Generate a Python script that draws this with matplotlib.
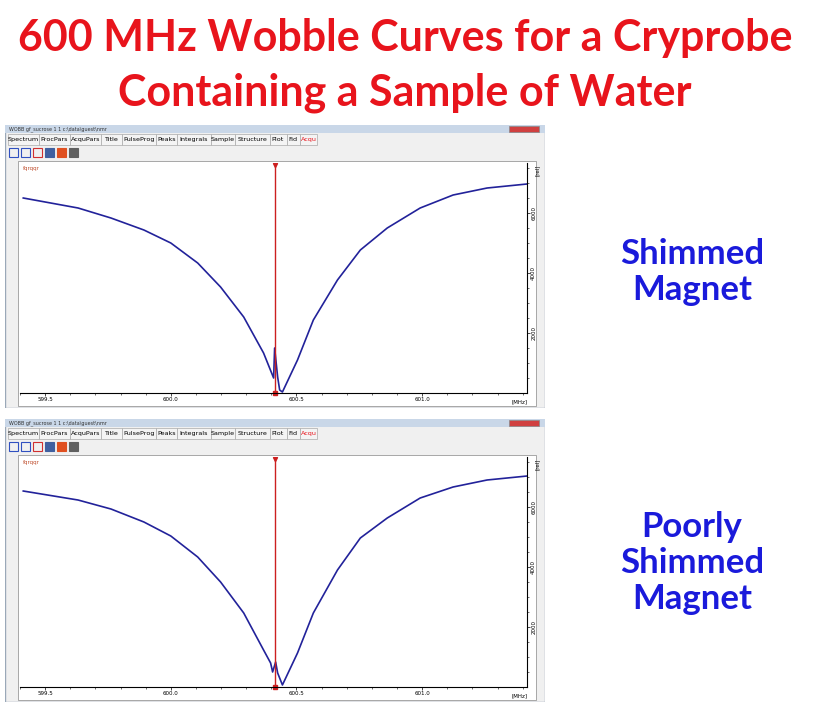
import matplotlib
matplotlib.use("Agg")
import matplotlib.pyplot as plt
from matplotlib.patches import Rectangle

# wobble curve, shimmed magnet (MHz, rel)
freq_top = [599.413, 599.631, 599.762, 599.893, 600.0, 600.107, 600.198, 600.290,
            600.369, 600.409, 600.413, 600.425, 600.433, 600.444, 600.504, 600.567,
            600.663, 600.754, 600.861, 600.992, 601.123, 601.258, 601.417]
rel_top = [6500, 6167, 5833, 5433, 5000, 4333, 3533, 2533,
           1333, 500, 1500, 533, 100, 33, 1100, 2433,
           3767, 4767, 5500, 6167, 6600, 6833, 6967]
# poorly shimmed magnet
freq_bot = [599.413, 599.631, 599.762, 599.893, 600.0, 600.107, 600.198, 600.290,
            600.369, 600.397, 600.405, 600.417, 600.425, 600.444, 600.504, 600.567,
            600.663, 600.754, 600.861, 600.992, 601.123, 601.258, 601.417]
rel_bot = [6533, 6233, 5933, 5500, 5033, 4333, 3500, 2467,
           1233, 800, 500, 833, 467, 67, 1133, 2467,
           3900, 4967, 5633, 6300, 6667, 6900, 7033]
x_ticks = [599.5, 600.0, 600.5, 601.0]
y_ticks = [2000, 4000, 6000]
marker_freq = 600.413
tabs = ["Spectrum", "ProcPars", "AcquPars", "Title", "PulseProg", "Peaks",
        "Integrals", "Sample", "Structure", "Plot", "Fid", "Acqu"]
labels = ["Shimmed\nMagnet", "Poorly\nShimmed\nMagnet"]

W, H = 814, 720
fig = plt.figure(figsize=(W / 100, H / 100), dpi=100)


def fr(x, y, w, h):
    return [x / W, 1 - (y + h) / H, w / W, h / H]


for line, yy in [("600 MHz Wobble Curves for a Cryprobe", 38),
                 ("Containing a Sample of Water", 93)]:
    fig.text(405 / W, 1 - yy / H, line, color="#e8141c", family="Lato",
             fontsize=31, fontweight="bold", ha="center", va="center")


def draw_panel(top, freq, rel, label, label_y):
    # window chrome
    bg = fig.add_axes(fr(5, top, 540, 283))
    bg.set_xlim(0, 540)
    bg.set_ylim(283, 0)
    bg.axis("off")
    bg.add_patch(Rectangle((0, 0), 540, 283, fc="#f0f0f0", ec="#9aa8b8", lw=1))
    bg.add_patch(Rectangle((0, 0), 540, 8, fc="#c9d7e8", ec="none"))
    bg.text(4, 4, "WOBB gf_sucrose 1 1 c:\\data\\guest\\nmr", fontsize=3.5,
            va="center", color="#333")
    bg.add_patch(Rectangle((504, 1), 30, 6, fc="#d04040", ec="#888", lw=0.5))
    x = 3
    for t in tabs:
        w = len(t) * 3.5 + 3
        bg.add_patch(Rectangle((x, 9), w, 11, fc="#f4f4f4", ec="#aaa", lw=0.5))
        bg.text(x + w / 2, 14.5, t, fontsize=4.6, ha="center", va="center",
                color="#e8141c" if t == "Acqu" else "black")
        x += w
    for i, c in enumerate(["#3050c0", "#3050c0", "#d03030", "#4060a0", "#e05020", "#606060"]):
        bg.add_patch(Rectangle((4 + i * 12, 23), 9, 9, fc="none" if i < 3 else c, ec=c, lw=0.8))
    bg.add_patch(Rectangle((13, 36), 518, 245, fc="white", ec="#888", lw=0.5))

    ax = fig.add_axes(fr(20, top + 38, 507, 230))
    ax.plot(freq, rel, color="#22229a", lw=1.2)
    ax.axvline(marker_freq, color="#cc2020", lw=1)
    ax.plot([marker_freq], [7600], marker="v", color="#cc2020", ms=3)
    ax.plot([marker_freq], [0], marker="s", color="#cc2020", ms=3, clip_on=False)
    ax.set_xlim(599.405, 601.417)
    ax.set_ylim(0, 7667)
    ax.set_xticks(x_ticks)
    ax.set_xticklabels([f"{v:.1f}" for v in x_ticks], fontsize=4)
    ax.set_xticks([599.4 + 0.1 * i for i in range(21)], minor=True)
    ax.yaxis.tick_right()
    ax.set_yticks(y_ticks)
    ax.set_yticks([500 * i for i in range(1, 16)], minor=True)
    ax.set_yticklabels([str(v) for v in y_ticks], fontsize=4, rotation=90, va="center")
    ax.tick_params(length=2, width=0.5, pad=1)
    ax.tick_params(which="minor", length=1.2, width=0.4)
    for s in ["top", "left"]:
        ax.spines[s].set_visible(False)
    ax.text(1.0, -0.04, "[MHz]", transform=ax.transAxes, fontsize=4, ha="right", va="center")
    ax.text(1.015, 0.97, "[rel]", transform=ax.transAxes, fontsize=4, rotation=90,
            ha="left", va="center")
    ax.text(0.005, 0.97, "fqrqqr", transform=ax.transAxes, fontsize=4, color="#c05030")
    fig.text(692 / W, 1 - label_y / H, label, color="#1a1adb", family="Lato",
             fontsize=25, fontweight="bold", ha="center", va="center", linespacing=1.15)


draw_panel(125, freq_top, rel_top, labels[0], 272)
draw_panel(419, freq_bot, rel_bot, labels[1], 563)

fig.savefig("out.png", dpi=100)
